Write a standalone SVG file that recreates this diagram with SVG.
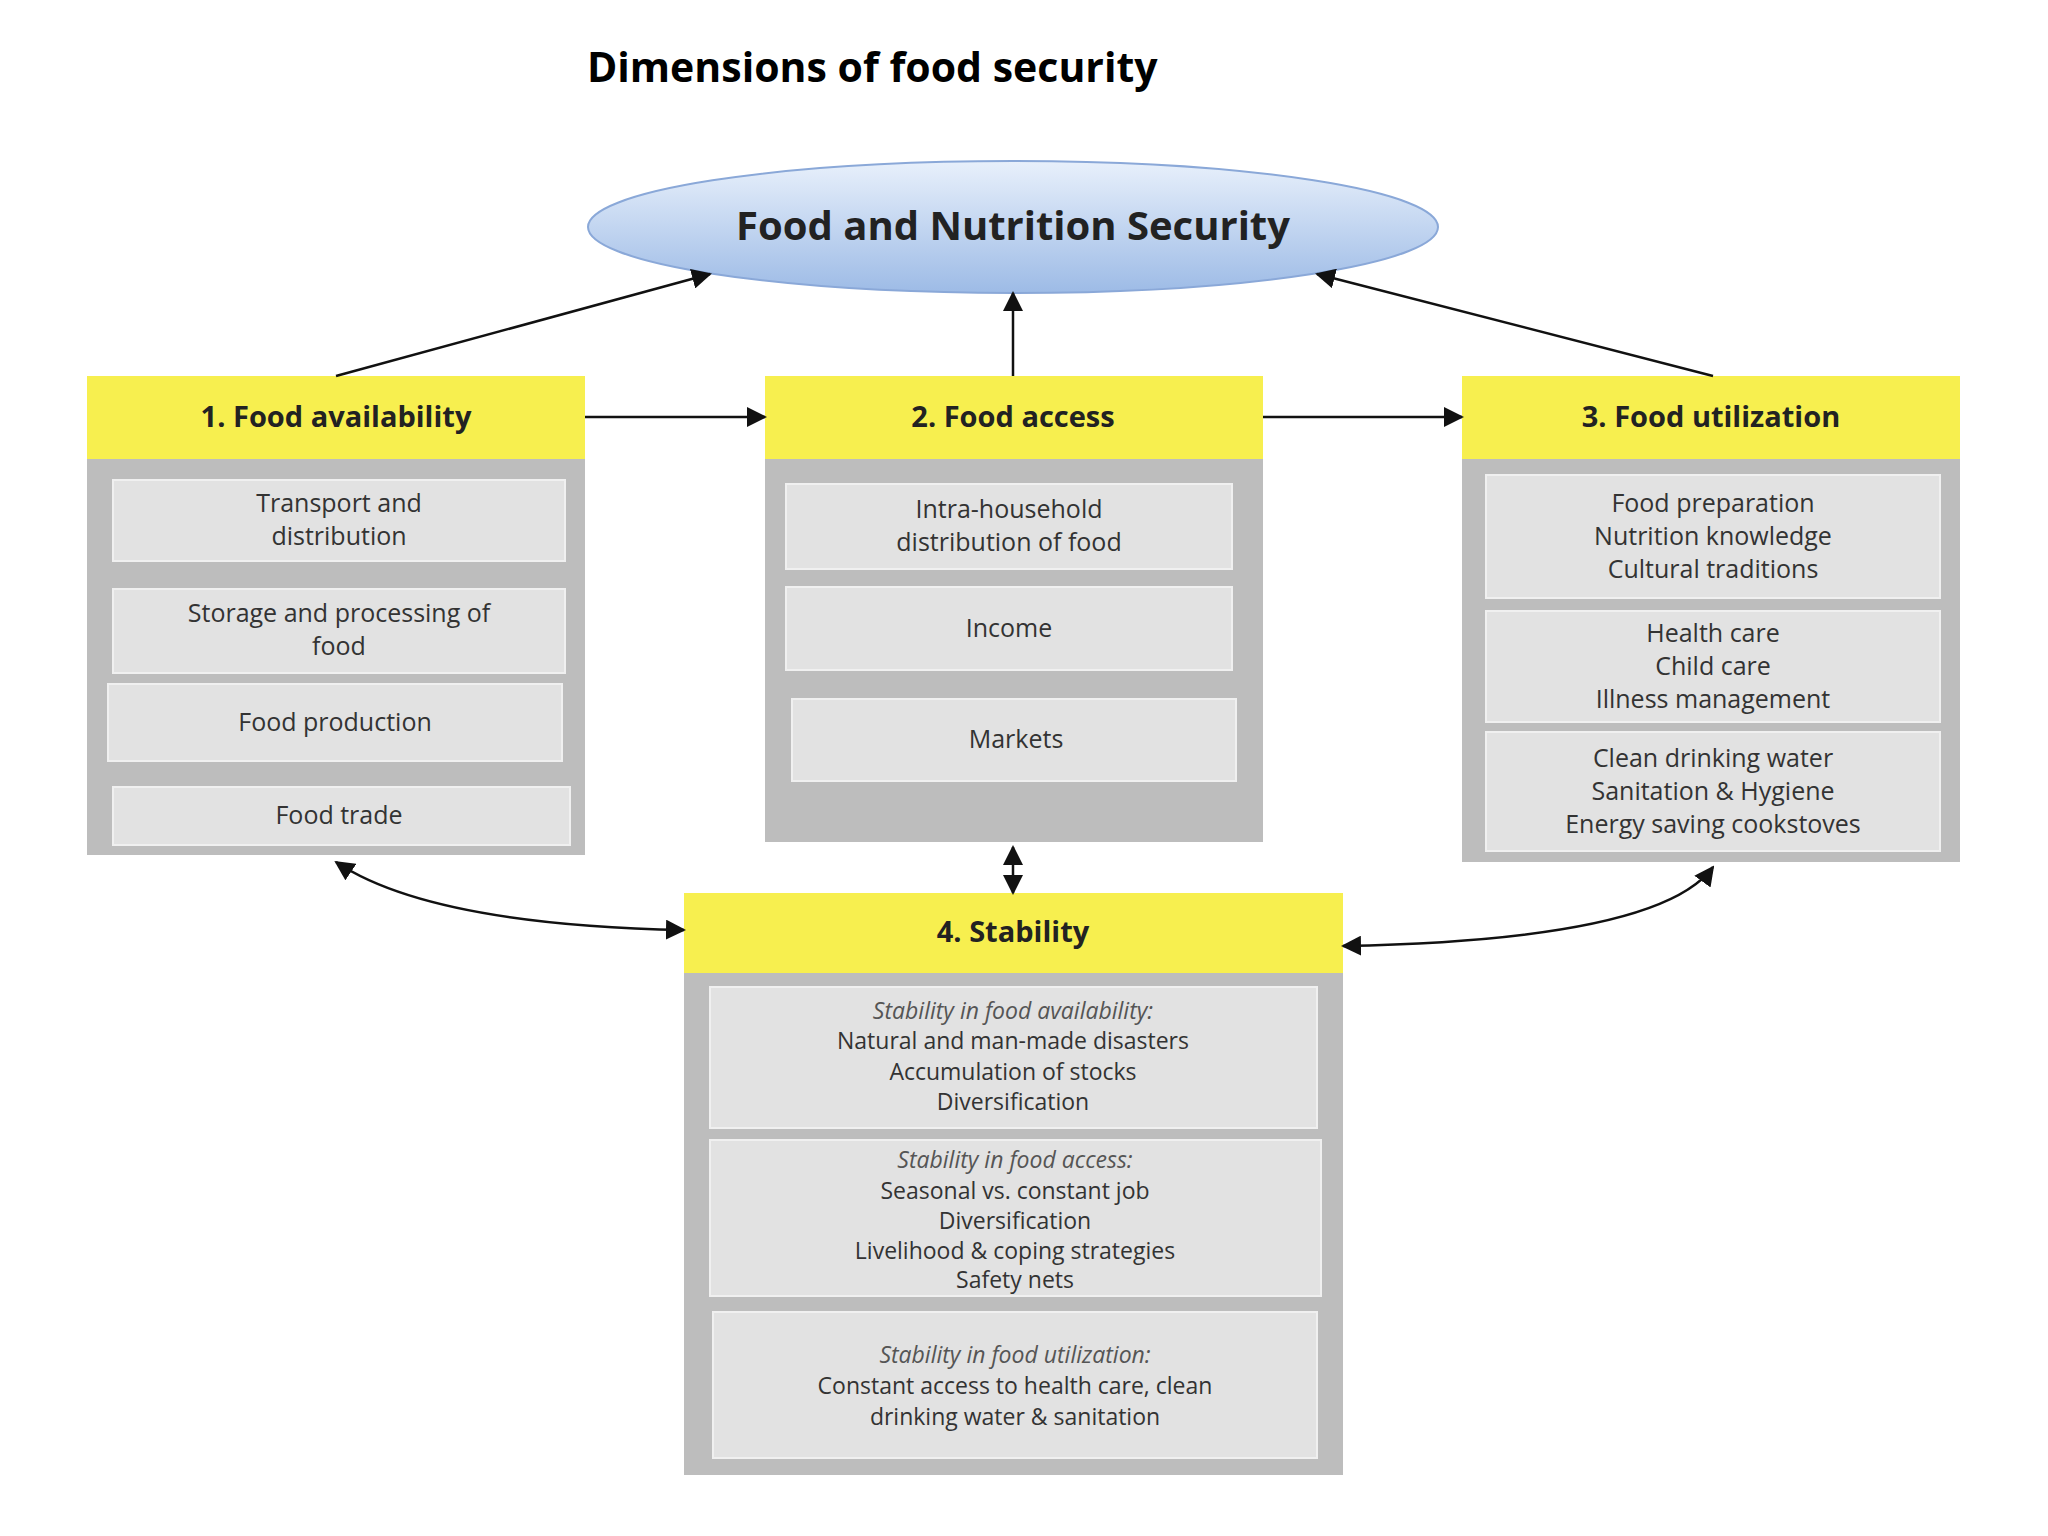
<svg xmlns="http://www.w3.org/2000/svg" width="2048" height="1536" viewBox="0 0 2048 1536">
<defs>
<marker id="ah" viewBox="0 0 10 10" refX="9" refY="5" markerWidth="8" markerHeight="8" orient="auto-start-reverse"><path d="M0,0 L10,5 L0,10 z" fill="#111"/></marker>
<linearGradient id="eg" x1="0" y1="0" x2="0" y2="1"><stop offset="0" stop-color="#e8f0fb"/><stop offset="1" stop-color="#9dbbe6"/></linearGradient>
</defs>
<style>
text{font-family:"Open Sans","Liberation Sans",sans-serif;fill:#333;text-anchor:middle}
.t{font-weight:bold;fill:#000;font-size:41px;text-anchor:start}
.h{font-weight:bold;font-size:29px;fill:#222}
.b{font-size:25px}
.s{font-size:23px}
.i{font-size:23px;font-style:italic;fill:#555}
.hd{fill:#f7ef4f}
.bd{fill:#bdbdbd}
.sb{fill:#e2e2e2;stroke:#f0f0f0;stroke-width:2}
.c{stroke:#111;stroke-width:2.5;fill:none;marker-end:url(#ah)}
</style>
<rect width="2048" height="1536" fill="#fff"/>
<text class="t" x="587" y="82">Dimensions of food security</text>
<g id="fns"><ellipse cx="1013" cy="227" rx="425" ry="66" fill="url(#eg)" stroke="#8aa8d8" stroke-width="2"/><text x="1013" y="240" style="font-size:40px;font-weight:bold;fill:#222">Food and Nutrition Security</text></g>
<g id="n1"><rect class="bd" x="87" y="459" width="498" height="396"/><rect class="hd" x="87" y="376" width="498" height="83"/><text class="h" x="336" y="427">1. Food availability</text>
<rect class="sb" x="113" y="480" width="452" height="81"/><text class="b" x="339" y="512">Transport and</text><text class="b" x="339" y="545">distribution</text>
<rect class="sb" x="113" y="589" width="452" height="84"/><text class="b" x="339" y="622">Storage and processing of</text><text class="b" x="339" y="655">food</text>
<rect class="sb" x="108" y="684" width="454" height="77"/><text class="b" x="335" y="731">Food production</text>
<rect class="sb" x="113" y="787" width="457" height="58"/><text class="b" x="339" y="824">Food trade</text></g>
<g id="n2"><rect class="bd" x="765" y="459" width="498" height="383"/><rect class="hd" x="765" y="376" width="498" height="83"/><text class="h" x="1013" y="427">2. Food access</text>
<rect class="sb" x="786" y="484" width="446" height="85"/><text class="b" x="1009" y="518">Intra-household</text><text class="b" x="1009" y="551">distribution of food</text>
<rect class="sb" x="786" y="587" width="446" height="83"/><text class="b" x="1009" y="637">Income</text>
<rect class="sb" x="792" y="699" width="444" height="82"/><text class="b" x="1016" y="748">Markets</text></g>
<g id="n3"><rect class="bd" x="1462" y="459" width="498" height="403"/><rect class="hd" x="1462" y="376" width="498" height="83"/><text class="h" x="1711" y="427">3. Food utilization</text>
<rect class="sb" x="1486" y="475" width="454" height="123"/><text class="b" x="1713" y="512">Food preparation</text><text class="b" x="1713" y="545">Nutrition knowledge</text><text class="b" x="1713" y="578">Cultural traditions</text>
<rect class="sb" x="1486" y="611" width="454" height="111"/><text class="b" x="1713" y="642">Health care</text><text class="b" x="1713" y="675">Child care</text><text class="b" x="1713" y="708">Illness management</text>
<rect class="sb" x="1486" y="732" width="454" height="119"/><text class="b" x="1713" y="767">Clean drinking water</text><text class="b" x="1713" y="800">Sanitation &amp; Hygiene</text><text class="b" x="1713" y="833">Energy saving cookstoves</text></g>
<g id="n4"><rect class="bd" x="684" y="973" width="659" height="502"/><rect class="hd" x="684" y="893" width="659" height="80"/><text class="h" x="1013" y="942">4. Stability</text>
<rect class="sb" x="710" y="987" width="607" height="141"/><text class="i" x="1013" y="1019">Stability in food availability:</text><text class="s" x="1013" y="1049">Natural and man-made disasters</text><text class="s" x="1013" y="1080">Accumulation of stocks</text><text class="s" x="1013" y="1110">Diversification</text>
<rect class="sb" x="710" y="1140" width="611" height="156"/><text class="i" x="1015" y="1168">Stability in food access:</text><text class="s" x="1015" y="1199">Seasonal vs. constant job</text><text class="s" x="1015" y="1229">Diversification</text><text class="s" x="1015" y="1259">Livelihood &amp; coping strategies</text><text class="s" x="1015" y="1288">Safety nets</text>
<rect class="sb" x="713" y="1312" width="604" height="146"/><text class="i" x="1015" y="1363">Stability in food utilization:</text><text class="s" x="1015" y="1394">Constant access to health care, clean</text><text class="s" x="1015" y="1425">drinking water &amp; sanitation</text></g>
<g id="connectors">
<line class="c" x1="336" y1="376" x2="710" y2="274"/>
<line class="c" x1="1013" y1="376" x2="1013" y2="293"/>
<line class="c" x1="1713" y1="376" x2="1317" y2="274"/>
<line class="c" x1="585" y1="417" x2="765" y2="417"/>
<line class="c" x1="1263" y1="417" x2="1462" y2="417"/>
<line class="c" x1="1013" y1="847" x2="1013" y2="893" style="marker-start:url(#ah)"/>
<path class="c" d="M336,862 Q430,925 684,930" style="marker-start:url(#ah)"/>
<path class="c" d="M1713,867 Q1660,940 1343,946" style="marker-start:url(#ah)"/>
</g>
</svg>
